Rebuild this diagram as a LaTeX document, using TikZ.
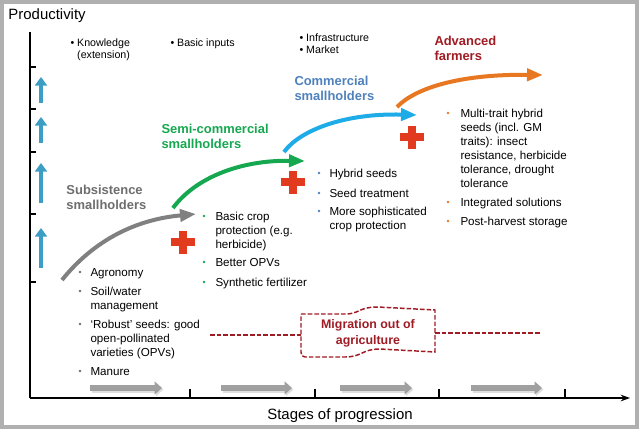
\documentclass[tikz,border=0pt]{standalone}
\usepackage{fontspec}
\setmainfont{Liberation Sans}
\usetikzlibrary{arrows.meta}

\definecolor{subsgray}{RGB}{110,110,110}
\definecolor{arrgray}{RGB}{128,128,128}
\definecolor{semigreen}{RGB}{22,168,80}
\definecolor{commblue}{RGB}{79,129,189}
\definecolor{skyblue}{RGB}{30,172,232}
\definecolor{advred}{RGB}{160,28,36}
\definecolor{advorange}{RGB}{232,119,34}
\definecolor{crossred}{RGB}{226,58,30}
\definecolor{axisblue}{RGB}{60,158,196}
\definecolor{stagegray}{RGB}{160,160,160}
\definecolor{framegray}{RGB}{176,176,176}

\tikzset{every picture/.style={line width=0.75pt},
  stagelabel/.style={anchor=north west,inner sep=0pt,align=left,font=\fontsize{9.7}{11.5}\selectfont\bfseries},
  listtext/.style={anchor=north west,inner sep=0pt,align=left,font=\fontsize{8.7}{10.5}\selectfont},
  topnote/.style={anchor=north west,inner sep=0pt,align=left,font=\fontsize{8}{9}\selectfont},
  growth/.style={line width=3pt,-{Triangle[length=12pt,width=9pt]}},
  stagearrow/.style={line width=5pt,-{Triangle[length=5.5pt,width=9.5pt]}},
  uparrow/.style={line width=3.5pt,draw=axisblue,-{Triangle[length=6.5pt,width=9pt]}},
  migration/.style={draw=advred,line width=1.1pt,dash pattern=on 3.5pt off 1.5pt},
  pics/redcross/.style={code={\fill[crossred] (-12,-4) rectangle (12,4); \fill[crossred] (-4,-11.5) rectangle (4,11.5);}}
}

\begin{document}
\begin{tikzpicture}[x=0.75pt,y=0.75pt,yscale=-1,xscale=1]
\useasboundingbox (0,0) rectangle (640,430);

%Shape: Frame
\fill[white] (0,0) rectangle (640,430);
\draw[framegray,line width=3pt] (2,2) rectangle (637,427);

%Straight Lines: axes
\draw[line width=1pt] (30,32) -- (30,398);
\draw[line width=1pt,-{Stealth[length=7pt,width=5pt]}] (30,398) -- (630,398);
\foreach \y in {67,109,152,214,282} \draw[line width=0.8pt] (30,\y) -- (36,\y);
\foreach \x in {190,315,439,565} \draw[line width=0.8pt] (\x,398) -- (\x,389);

% Text Node
\draw (8,16) node (prod) [anchor=west,inner sep=0pt,font=\fontsize{11.2}{13}\selectfont] {Productivity};
% Text Node
\draw (340,416) node (stages) [inner sep=0pt,font=\fontsize{11.2}{13}\selectfont] {Stages of progression};

%Straight Lines: productivity arrows
\draw[uparrow] (41,103) -- (41,77);
\draw[uparrow] (41,143) -- (41,117);
\draw[uparrow] (41,203) -- (41,163);
\draw[uparrow] (41,268) -- (41,228);

%Straight Lines: stage arrows
\foreach \a/\b in {90/162,221/292,340/412,471/542}{
  \draw[stagearrow,draw=gray!25] (\a+1.5,389.5) -- (\b+1.5,389.5);
  \draw[stagearrow,draw=stagegray] (\a,388) -- (\b,388);
}

%Curve Lines
\draw[growth,arrgray] (62,280) .. controls (90,245) and (130,220) .. (196,214);
\draw[growth,semigreen] (173,208) .. controls (195,178) and (240,160) .. (305,161);
\draw[growth,skyblue] (284,152) .. controls (300,130) and (345,113) .. (417,115);
\draw[growth,advorange] (397,107) .. controls (415,88) and (460,74) .. (543,75);

%Shape: Crosses
\pic at (183,242) {redcross};
\pic at (293,182) {redcross};
\pic at (412,137) {redcross};

% Text Node
\draw (70,38) node (know) [topnote] {\textbullet\ Knowledge\\\phantom{\textbullet\ }(extension)};
% Text Node
\draw (170,38) node (inputs) [topnote] {\textbullet\ Basic inputs};
% Text Node
\draw (299,33) node (infra) [topnote] {\textbullet\ Infrastructure\\\textbullet\ Market};

% Text Node
\draw (66,184.4) node (subs) [stagelabel,text=subsgray] {Subsistence\\smallholders};
% Text Node
\draw (161,123.4) node (semi) [stagelabel,text=semigreen] {Semi-commercial\\smallholders};
% Text Node
\draw (294,75.4) node (comm) [stagelabel,text=commblue] {Commercial\\smallholders};
% Text Node
\draw (434,35.4) node (adv) [stagelabel,text=advred] {Advanced\\farmers};

% Text Node
\draw (90,268) node (agro) [listtext] {Agronomy};
\draw (90,287) node (soil) [listtext] {Soil/water\\management};
\draw (90,320) node (robust) [listtext] {`Robust' seeds: good\\open-pollinated\\varieties (OPVs)};
\draw (90,367) node (manure) [listtext] {Manure};
\foreach \y in {272,291,324,371} \fill[subsgray] (80,\y) circle (1.4);

% Text Node
\draw (215,212) node (crop) [listtext] {Basic crop\\protection (e.g.\\herbicide)};
\draw (215,258) node (opv) [listtext] {Better OPVs};
\draw (215,278) node (fert) [listtext] {Synthetic fertilizer};
\foreach \y in {216,262,282} \fill[semigreen] (204,\y) circle (1.4);

% Text Node
\draw (329,169) node (hybrid) [listtext] {Hybrid seeds};
\draw (329,189) node (treat) [listtext] {Seed treatment};
\draw (329,207) node (soph) [listtext] {More sophisticated\\crop protection};
\foreach \y in {173,193,211} \fill[commblue] (319,\y) circle (1.4);

% Text Node
\draw (460,109) node (multi) [listtext] {Multi-trait hybrid\\seeds (incl. GM\\traits): insect\\resistance, herbicide\\tolerance, drought\\tolerance};
\draw (460,198) node (integ) [listtext] {Integrated solutions};
\draw (460,217) node (post) [listtext] {Post-harvest storage};
\foreach \y in {113,202,221} \fill[advorange] (448,\y) circle (1.4);

%Shape: Migration
\coordinate (migl) at (301,335);
\coordinate (migr) at (435,333);
\draw[migration] (210,335) -- (migl);
\draw[migration] (migr) -- (541,333);
\draw[migration] (301,314) -- (345,314) .. controls (360,314) and (358,307) .. (378,307) -- (435,310) -- (435,352) -- (380,349) .. controls (362,349) and (362,357) .. (345,357) -- (305,357) .. controls (302,357) and (301,355) .. (301,352) -- cycle;
% Text Node
\draw (368,333) node (migtext) [inner sep=0pt,align=center,text=advred,font=\fontsize{9.3}{12}\selectfont\bfseries] {Migration out of\\agriculture};

\end{tikzpicture}
\end{document}
